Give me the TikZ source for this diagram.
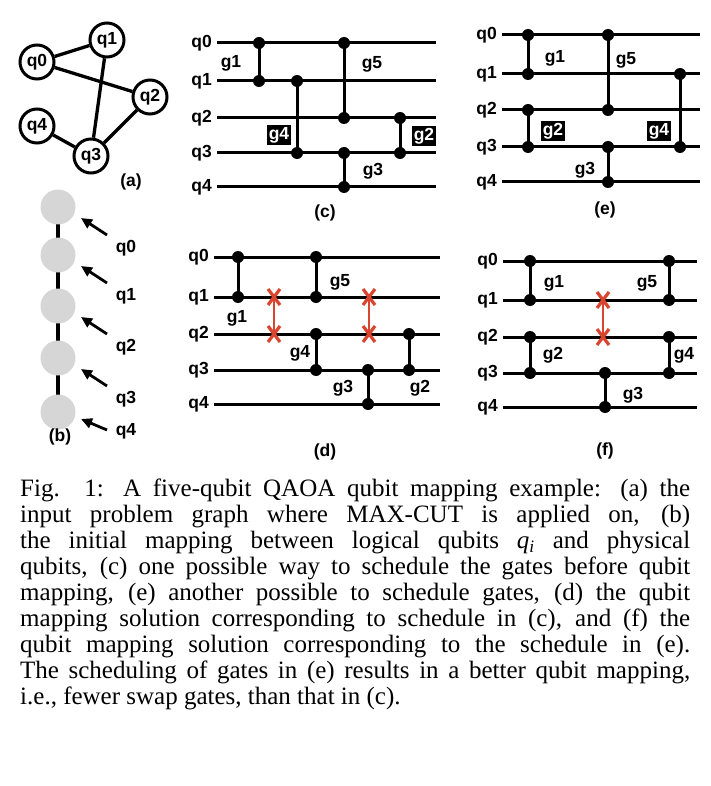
\documentclass[tikz,border=0pt]{standalone}
\usepackage{fontspec}
\usetikzlibrary{calc,arrows.meta}
\setmainfont{Liberation Serif}
\newfontfamily\lab{Liberation Sans}[Scale=1]
\definecolor{swapred}{HTML}{D9452F}
\definecolor{qgray}{HTML}{D6D6D6}
\tikzset{
  lb/.style={font=\lab\bfseries\fontsize{17.5}{17.5}\selectfont, inner sep=0pt},
  blk/.style={lb, fill=black, text=white, inner sep=2pt},
  wire/.style={line width=3pt},
  gate/.style={line width=3pt},
  qn/.style={circle, draw, line width=3pt, minimum size=34pt, inner sep=0pt, font=\lab\bfseries\fontsize{17.5}{17.5}\selectfont, fill=white},
  pq/.style={circle, fill=qgray, minimum size=35pt, inner sep=0pt},
  parr/.style={-{Triangle[length=11pt,width=10pt]}, line width=2.8pt},
}
\newcommand{\cwires}[7]{%
  \foreach \yy/\nm in {#3/q0,#4/q1,#5/q2,#6/q3,#7/q4}{
    \draw[wire] (#1,\yy) -- (#2,\yy);
    \node[lb, anchor=east] at (#1-5,\yy) {\nm};
  }}
\newcommand{\cz}[3]{\draw[gate] (#1,#2) -- (#1,#3); \fill (#1,#2) circle (6pt); \fill (#1,#3) circle (6pt);}
\newcommand{\swp}[3]{\draw[swapred, line width=2.2pt] (#1,#2) -- (#1,#3);
  \foreach \yy in {#2,#3}{\draw[swapred, line width=3.2pt] (#1-6,\yy-8) -- (#1+6,\yy+8) (#1-6,\yy+8) -- (#1+6,\yy-8);}}
\begin{document}
\begin{tikzpicture}[x=1pt,y=-1pt]
\useasboundingbox (0,0) rectangle (710,786);
% (a)
\node[qn] (a0) at (37,62) {q0};
\node[qn] (a1) at (107,40) {q1};
\node[qn] (a2) at (150,97) {q2};
\node[qn] (a4) at (37,126) {q4};
\node[qn] (a3) at (91,156) {q3};
\draw[line width=3.3pt] (a0) -- (a1) (a0) -- (a2) (a1) -- (a3) (a2) -- (a3) (a4) -- (a3);
\node[lb] at (131,182) {(a)};
% (b)
\draw[line width=3.3pt] (58,207) -- (58,412);
\foreach \yy/\nm [count=\i] in {207/q0,255/q1,306/q2,358/q3}{
  \node[pq] (p\i) at (58,\yy) {};
  \node[lb] (l\i) at (126,\yy+41) {\nm};
}
\node[pq] (p5) at (58,412) {};
\node[lb] (l5) at (126,431) {q4};
\foreach \i in {1,...,4}{\draw[parr] ($(p\i)+(49,28)$) -- ($(p\i)+(23,11)$);}
\draw[parr] ($(p5)+(49,18)$) -- ($(p5)+(23,7)$);
\node[lb] at (60,437) {(b)};
% (c)
\cwires{217}{436}{43}{81}{118}{153}{187}
\cz{259}{43}{81} \cz{297}{81}{153} \cz{344}{43}{118} \cz{344}{153}{187} \cz{400}{118}{153}
\node[lb] at (231,63) {g1};
\node[lb] at (372,64) {g5};
\node[blk] at (279,135) {g4};
\node[blk] at (424,136) {g2};
\node[lb] at (373,171) {g3};
\node[lb] at (325,213) {(c)};
% (e)
\cwires{502}{700}{35}{74}{110}{147}{182}
\cz{528}{35}{74} \cz{528}{110}{147} \cz{608}{35}{110} \cz{608}{147}{182} \cz{680}{74}{147}
\node[lb] at (555,58) {g1};
\node[lb] at (626,60) {g5};
\node[blk] at (553,131) {g2};
\node[blk] at (659,131) {g4};
\node[lb] at (585,170) {g3};
\node[lb] at (605,210) {(e)};
% (d)
\cwires{214}{440}{257}{297}{334}{370}{404}
\cz{238}{257}{297} \swp{274}{297}{334} \cz{316}{257}{297} \cz{316}{334}{370}
\swp{369}{297}{334} \cz{368}{370}{404} \cz{409}{334}{370}
\node[lb] at (237,318) {g1};
\node[lb] at (340,282) {g5};
\node[lb] at (300,353) {g4};
\node[lb] at (343,388) {g3};
\node[lb] at (420,388) {g2};
\node[lb] at (325,452) {(d)};
% (f)
\cwires{503}{697}{261}{300}{337}{373}{407}
\cz{530}{261}{300} \cz{530}{337}{373} \swp{603}{300}{337} \cz{605}{373}{407}
\cz{669}{261}{300} \cz{669}{337}{373}
\node[lb] at (554,283) {g1};
\node[lb] at (647,283) {g5};
\node[lb] at (553,355) {g2};
\node[lb] at (684,355) {g4};
\node[lb] at (633,395) {g3};
\node[lb] at (605,451) {(f)};
% caption
\node[anchor=north west, inner sep=0pt, text width=670pt, align=justify,
  font=\fontsize{25}{25.9}\selectfont] (cap) at (20,479) {%
Fig. 1: A five-qubit QAOA qubit mapping example: (a) the\linebreak
input problem graph where MAX-CUT is applied on, (b)\linebreak
the initial mapping between logical qubits \textit{q}\textsubscript{\textit{i}} and physical\linebreak
qubits, (c) one possible way to schedule the gates before qubit\linebreak
mapping, (e) another possible to schedule gates, (d) the qubit\linebreak
mapping solution corresponding to schedule in (c), and (f) the\linebreak
qubit mapping solution corresponding to the schedule in (e).\linebreak
The scheduling of gates in (e) results in a better qubit mapping,\linebreak
i.e., fewer swap gates, than that in (c).};
\end{tikzpicture}
\end{document}
